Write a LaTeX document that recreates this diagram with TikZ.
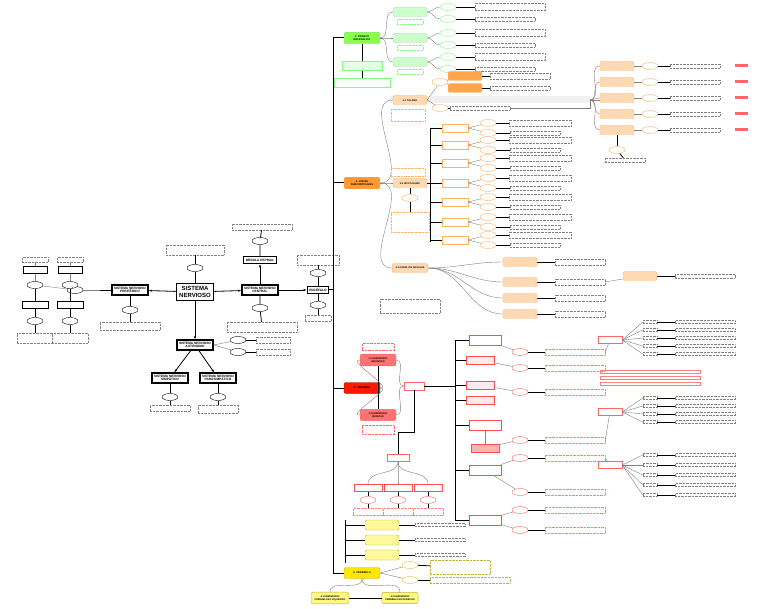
\documentclass[tikz,border=0pt]{standalone}
\usepackage{fontspec}
\setmainfont{Liberation Sans}
\usetikzlibrary{shapes.geometric,arrows.meta}
\begin{document}
\begin{tikzpicture}[x=1pt,y=-1pt,
 main/.style={draw,very thick,fill=white,align=center,font=\bfseries\fontsize{3.2}{3.6}\selectfont,inner sep=2pt},
 big/.style={draw,line width=1.2pt,fill=white,align=center,font=\bfseries\fontsize{6}{6.5}\selectfont,inner sep=3pt},
 ov/.style={draw,ellipse,thin,fill=white,minimum width=16pt,minimum height=7pt,inner sep=0pt},
 tb/.style={draw,densely dotted,gray,fill=white,minimum height=#1,inner sep=0pt},
 tb/.default=8pt,
 gB/.style={draw=green!50!black!40,fill=green!55!lime!70,rounded corners=2pt,minimum width=36pt,minimum height=11pt,align=center,font=\bfseries\fontsize{2.6}{3}\selectfont},
 gS/.style={draw=green!40!black!30,fill=green!20,rounded corners=2pt,minimum width=34pt,minimum height=9pt,font=\bfseries\fontsize{2.4}{3}\selectfont},
 oB/.style={draw=orange!70,fill=orange!80,rounded corners=2pt,minimum width=36pt,minimum height=11pt,align=center,font=\bfseries\fontsize{2.6}{3}\selectfont},
 oS/.style={draw=orange!60,fill=orange!30,rounded corners=2pt,minimum width=34pt,minimum height=9pt,font=\bfseries\fontsize{2.4}{3}\selectfont},
 oL/.style={draw=orange!60,fill=white,minimum width=26pt,minimum height=8pt},
 rB/.style={draw=red!60!black,fill=red!80!orange,rounded corners=2pt,minimum width=36pt,minimum height=11pt,align=center,font=\bfseries\fontsize{2.6}{3}\selectfont},
 rH/.style={draw=red!60,fill=red!55,rounded corners=2pt,minimum width=36pt,minimum height=11pt,align=center,font=\bfseries\fontsize{2.4}{3}\selectfont},
 rS/.style={draw=red!70,thick,fill=white,minimum width=32pt,minimum height=10pt,align=center,font=\bfseries\fontsize{2.4}{3}\selectfont},
 rL/.style={draw=red!70,fill=red!8,minimum width=28pt,minimum height=8pt},
 yB/.style={draw=yellow!70!black,fill=yellow!90!orange,rounded corners=2pt,minimum width=36pt,minimum height=11pt,align=center,font=\bfseries\fontsize{2.6}{3}\selectfont},
 yS/.style={draw=yellow!70!black,fill=yellow!40,rounded corners=2pt,minimum width=34pt,minimum height=10pt,align=center,font=\bfseries\fontsize{2.4}{3}\selectfont},
 ln/.style={thick},
 cv/.style={gray,thin},
 arr/.style={thick,-{Latex[length=3pt]}}]
\useasboundingbox (0,0) rectangle (768,609);
\fill[white] (0,0) rectangle (768,609);
\fill[gray!12] (390,96) rectangle (590,103);
% ---------- left cluster
\node[big] (sn) at (195,292) {SISTEMA\\NERVIOSO};
\node[main] (snp) at (130,290) {SISTEMA NERVIOSO\\PERIFÉRICO};
\node[main] (snc) at (260,290) {SISTEMA NERVIOSO\\CENTRAL};
\node[main] (me) at (260,260) {MÉDULA ESPINAL};
\node[main] (enc) at (318,290) {ENCÉFALO};
\node[main] (sna) at (195,345) {SISTEMA NERVIOSO\\AUTÓNOMO};
\node[main] (sim) at (170,378) {SISTEMA NERVIOSO\\SIMPÁTICO};
\node[main] (par) at (218,378) {SISTEMA NERVIOSO\\PARASIMPÁTICO};
\draw[arr] (sn) -- (snp); \draw[arr] (sn) -- (snc); \draw[arr] (sn) -- (sna);
\draw[arr] (snc) -- (me); \draw[arr] (snc) -- (enc);
\draw[arr] (sna) -- (sim); \draw[arr] (sna) -- (par);
\node[ov] (o1) at (195,268) {}; \node[tb=10pt,minimum width=58pt] (t1) at (195,250) {};
\draw[ln] (sn)--(o1)--(t1);
\node[ov] (o2) at (130,310) {}; \node[tb=8pt,minimum width=60pt] (t2) at (130,326) {};
\draw[ln] (snp)--(o2)--(t2);
\node[ov] (o3) at (260,308) {}; \node[tb=10pt,minimum width=70pt] (t3) at (262,327) {};
\draw[ln] (snc)--(o3)--(t3);
\node[ov] (o4) at (260,241) {}; \node[tb=6pt,minimum width=60pt] (t4) at (262,227) {};
\draw[ln] (me)--(o4)--(t4);
\node[ov] (o5) at (318,273) {}; \node[tb=10pt,minimum width=42pt] (t5) at (318,260) {};
\draw[ln] (enc)--(o5)--(t5);
\node[ov] (o6) at (318,305) {}; \node[tb=6pt,minimum width=26pt] (t6) at (318,318) {};
\draw[ln] (enc)--(o6)--(t6);
\node[ov] (o7) at (238,340) {}; \node[tb=6pt,minimum width=34pt] (t7) at (273,340) {};
\node[ov] (o8) at (238,352) {}; \node[tb=6pt,minimum width=34pt] (t8) at (273,352) {};
\draw[cv] (sna.east)--(o7); \draw[cv] (sna.east)--(o8);
\draw[ln] (o7)--(t7); \draw[ln] (o8)--(t8);
\node[ov] (o9) at (170,397) {}; \node[tb=6pt,minimum width=40pt] (t9) at (170,408) {};
\node[ov] (o10) at (218,397) {}; \node[tb=8pt,minimum width=40pt] (t10) at (218,409) {};
\draw[ln] (sim)--(o9)--(t9); \draw[ln] (par)--(o10)--(t10);
% far left
\coordinate (fl) at (100,290);
\draw[ln] (snp)--(fl);
\node[ov] (o11) at (75,290) {};
\draw[cv] (fl)--(o11);
\foreach \x/\n in {35/a,70/b}{
 \node[draw,thin,minimum width=24pt,minimum height=6pt] (u\n) at (\x,270) {};
 \node[ov] (v\n) at (\x,285) {};
 \node[draw,thin,minimum width=26pt,minimum height=7pt] (w\n) at (\x,305) {};
 \node[ov] (x\n) at (\x,321) {};
 \node[tb=10pt,minimum width=36pt] (y\n) at (\x,338) {};
 \draw[cv] (u\n)--(v\n); \draw[ln] (v\n)--(w\n); \draw[ln] (w\n)--(x\n)--(y\n);
 \node[tb=5pt,minimum width=26pt] (z\n) at (\x,260) {};
 \draw[cv] (z\n)--(u\n);}
\draw[cv] (o11)--(va); \draw[cv] (o11)--(vb);
% ---------- spine
\coordinate (s0) at (333,38); \coordinate (s1) at (333,573);
\draw[line width=1pt] (enc)--(333,290);
\draw[line width=1pt] (s0)--(s1);
\node[gB] (g) at (362,38) {1. TRONCO\\ENCEFÁLICO};
\node[oB] (o) at (362,183) {2. ZONAS\\SUBCORTICALES};
\node[rB] (r) at (362,388) {3. CEREBRO};
\node[yB] (y) at (362,573) {4. CEREBELO};
\foreach \n/\yy in {g/38,o/183,r/388,y/573}{\draw[line width=1pt] (333,\yy)--(\n);}
% green
\foreach \i/\yy in {1/12,2/38,3/62}{
 \node[gS] (gs\i) at (410,\yy) {};
 \draw[cv] (g.east) to[out=0,in=180] (gs\i.west);
 \node[ov,draw=green!50] (ga\i) at (448,\yy-5) {}; \node[ov,draw=green!50] (gb\i) at (448,\yy+7) {};
 \draw[cv] (gs\i.east) to[out=0,in=180] (ga\i); \draw[cv] (gs\i.east) to[out=0,in=180] (gb\i);
 \node[tb=7pt,minimum width=70pt] (gt\i) at (510,\yy-5) {}; \draw[ln] (ga\i)--(gt\i);
 \node[tb=4pt,minimum width=60pt] (gu\i) at (505,\yy+7) {}; \draw[ln] (gb\i)--(gu\i);
 \node[tb=5pt,minimum width=26pt,draw=green!50] at (410,\yy+10) {};}
\node[draw=green!50,fill=green!10,thick,minimum width=40pt,minimum height=9pt] (gbx) at (362,66) {};
\node[draw=green!50,minimum width=56pt,minimum height=9pt] (gtx) at (362,83) {};
\draw[ln] (g)--(gbx)--(gtx);
% orange
\node[oS] (os1) at (410,100) {2.1 TÁLAMO};
\node[oS] (os2) at (410,183) {2.2 HIPOTÁLAMO};
\draw[cv] (o.east) to[out=0,in=180] (os1.west);
\draw[cv] (o.east) to[out=0,in=180] (os2.west);
\node[oS] (os3) at (410,268) {2.3 GANGLIOS BASALES};
\draw[cv] (o.east) to[out=0,in=180] (os3.west);
\node[tb=12pt,minimum width=34pt,draw=orange!60] at (408,115) {};
\node[tb=8pt,minimum width=34pt,draw=orange!60] at (408,172) {};
\node[ov,draw=orange!60] (oo) at (410,198) {};
\node[tb=20pt,minimum width=38pt,draw=orange!60] (ott) at (410,222) {};
\draw[ln] (os2)--(oo)--(ott);
\node[ov,draw=orange!60] (ta) at (440,82) {}; \node[ov,draw=orange!60] (tb2) at (440,108) {};
\draw[cv] (os1.east)--(ta); \draw[cv] (os1.east)--(tb2);
\node[oS,fill=orange!70] (tc) at (465,76) {}; \node[oS,fill=orange!70] (td) at (465,88) {};
\draw[cv] (ta)--(tc); \draw[cv] (ta)--(td);
\node[tb=6pt,minimum width=60pt] (te) at (520,76) {}; \node[tb=4pt,minimum width=60pt] (tf) at (520,88) {};
\draw[ln] (tc)--(te); \draw[ln] (td)--(tf);
\node[tb=4pt,minimum width=60pt] (tg) at (480,108) {}; \draw[ln] (tb2)--(tg);
\draw[cv] (tg.east) -- (590,108) |- (600,100);
% thalamus nuclei
\foreach \i/\yy in {1/66,2/82,3/98,4/114,5/130}{
 \node[oS] (nk\i) at (617,\yy) {};
 \draw[cv] (590,100) to[out=0,in=180] (nk\i.west);
 \node[ov,draw=orange!60] (nko\i) at (650,\yy) {};
 \node[tb=4pt,minimum width=50pt] (nkt\i) at (695,\yy) {};
 \draw[cv] (nk\i)--(nko\i); \draw[ln] (nko\i)--(nkt\i);
 \fill[red!60] (735,\yy-1.5) rectangle (748,\yy+1.5);}
\node[ov,draw=orange!60] (nb) at (617,150) {}; \draw[ln] (nk5)--(nb);
\node[tb=4pt,minimum width=40pt] (nbt) at (625,160) {}; \draw[ln] (nb)--(nbt);
% hypothalamus rows
\draw[line width=0.8pt] (430,128)--(430,242);
\draw[line width=0.8pt] (os2)--(430,183);
\foreach \i/\yy in {1/128,2/145,3/163,4/183,5/202,6/222,7/240}{
 \node[oL] (hx\i) at (455,\yy) {};
 \draw[line width=0.8pt] (430,\yy)--(hx\i);
 \node[ov,draw=orange!60] (ha\i) at (488,\yy-5) {}; \node[ov,draw=orange!60] (hb\i) at (488,\yy+5) {};
 \draw[cv] (hx\i.east)--(ha\i); \draw[cv] (hx\i.east)--(hb\i);
 \node[tb=6pt,minimum width=62pt] (hta\i) at (540,\yy-5) {}; \draw[ln] (ha\i)--(hta\i);
 \node[tb=4pt,minimum width=50pt] (htb\i) at (535,\yy+5) {}; \draw[ln] (hb\i)--(htb\i);}
% ganglios basales
\foreach \i/\yy in {1/262,2/282,3/298,4/314}{
 \node[oS] (bg\i) at (520,\yy) {};
 \draw[cv] (os3.east) to[out=0,in=180] (bg\i.west);
 \node[tb=6pt,minimum width=50pt] (bgt\i) at (580,\yy) {}; \draw[ln] (bg\i)--(bgt\i);}
\node[oS] (bgr) at (640,276) {}; \draw[cv] (bgt2.east)--(bgr);
\node[tb=4pt,minimum width=60pt] (bgrt) at (705,276) {}; \draw[ln] (bgr)--(bgrt);
\node[tb=14pt,minimum width=60pt] at (410,306) {};
% red
\node[rH] (r1) at (378,360) {3.1 HEMISFERIO\\IZQUIERDO};
\node[rH] (r2) at (378,415) {3.2 HEMISFERIO\\DERECHO};
\draw[line width=0.8pt] (r1)--(r2);
\node[tb=7pt,minimum width=32pt,draw=red!60] at (378,347) {};
\node[tb=9pt,minimum width=32pt,draw=red!60] at (378,430) {};
\draw[cv] (r.east) to[out=0,in=180] (r1.west);
\draw[cv] (r.east) to[out=0,in=180] (r2.west);
\node[draw=red!60,minimum width=20pt,minimum height=8pt] (rc) at (414,386) {};
\draw[cv] (r1.east) to[out=0,in=180] (rc.west);
\draw[cv] (r2.east) to[out=0,in=180] (rc.west);
\draw[line width=0.8pt] (rc.south) |- (398,432) -- (398,455);
\node[draw=red!60,minimum width=22pt,minimum height=6pt] (rl) at (398,458) {};
\foreach \i/\x in {1/368,2/398,3/428}{
 \node[rS,minimum height=7pt,minimum width=28pt] (rk\i) at (\x,488) {};
 \draw[cv] (rl.south) to[out=-90,in=90] (rk\i.north);
 \node[ov,draw=red!60] (rko\i) at (\x,500) {};
 \node[tb=7pt,minimum width=30pt,draw=red!50] (rkt\i) at (\x,512) {};
 \draw[ln] (rk\i)--(rko\i)--(rkt\i);}
% lobes
\draw[line width=0.8pt] (rc.east)--(455,386);
\draw[line width=0.8pt] (455,340)--(455,520);
\foreach \i/\yy in {1/340,2/425,3/470,4/520}{
 \node[rS] (lb\i) at (485,\yy) {};
 \draw[line width=0.8pt] (455,\yy)--(lb\i);}
\foreach \i/\yy in {1/360,2/385,3/400}{
 \node[rL] (lx\i) at (480,\yy) {}; \draw[thin] (455,\yy)--(lx\i);}
\node[rL,fill=red!30] (lx4) at (485,448) {}; \draw[cv] (lb2)--(lx4);
\foreach \n/\yy in {a/352,b/368,c/392,d/440,e/458,f/492,g/510,h/530}{
 \node[ov,draw=red!60] (lo\n) at (520,\yy) {};
 \node[tb=6pt,minimum width=60pt,draw=red!50] (lt\n) at (575,\yy) {};
 \draw[ln] (lo\n)--(lt\n);}
\draw[cv] (lb1)--(loa); \draw[cv] (lx1)--(lob); \draw[cv] (lx2)--(loc);
\draw[cv] (lx4)--(lod); \draw[cv] (lb3)--(loe); \draw[cv] (lb3)--(lof);
\draw[cv] (lb4)--(log); \draw[cv] (lb4)--(loh);
\foreach \n/\x/\yy in {p/610/340,q/610/412,r2/610/465}{
 \node[draw=red!60,minimum width=24pt,minimum height=6pt] (fn\n) at (\x,\yy) {};}
\draw[cv] (lta.east)--(fnp); \draw[cv] (ltd.east)--(fnq); \draw[cv] (lte.east)--(fnr2);
\foreach \k/\yy in {0/322,1/330,2/338,3/346,4/354}{
 \node[tb=3pt,minimum width=14pt] (fa\k) at (650,\yy) {};
 \node[tb=3pt,minimum width=60pt] (fb\k) at (705,\yy) {};
 \draw[cv] (fnp.east)--(fa\k.west); \draw[thin] (fa\k)--(fb\k);}
\foreach \k/\yy in {0/398,1/406,2/414,3/422}{
 \node[tb=3pt,minimum width=14pt] (fc\k) at (650,\yy) {};
 \node[tb=3pt,minimum width=60pt] (fd\k) at (705,\yy) {};
 \draw[cv] (fnq.east)--(fc\k.west); \draw[thin] (fc\k)--(fd\k);}
\foreach \k/\yy in {0/455,1/465,2/475,3/485,4/495}{
 \node[tb=3pt,minimum width=14pt] (fe\k) at (650,\yy) {};
 \node[tb=3pt,minimum width=60pt] (ff\k) at (705,\yy) {};
 \draw[cv] (fnr2.east)--(fe\k.west); \draw[thin] (fe\k)--(ff\k);}
\foreach \yy in {372,378,384}{\draw[red!50] (600,\yy-1.5) rectangle (700,\yy+1.5);}
% yellow
\draw[line width=0.8pt] (345,520)--(345,563);
\foreach \i/\yy in {1/525,2/540,3/555}{
 \node[yS] (yk\i) at (382,\yy) {};
 \draw[line width=0.8pt] (345,\yy)--(yk\i);
 \node[tb=3pt,minimum width=50pt] (ykt\i) at (440,\yy) {}; \draw[ln] (yk\i)--(ykt\i);}
\node[ov,draw=yellow!80!black] (ya) at (410,565) {}; \node[ov,draw=yellow!80!black] (yb) at (410,580) {};
\draw[cv] (y.east)--(ya); \draw[cv] (y.east)--(yb);
\node[tb=14pt,minimum width=60pt,draw=yellow!70!black] (yat) at (460,567) {}; \draw[ln] (ya)--(yat);
\node[tb=6pt,minimum width=80pt,draw=yellow!70!black] (ybt) at (470,580) {}; \draw[ln] (yb)--(ybt);
\node[yS,fill=yellow!50] (y1) at (330,598) {4.1 HEMISFERIO\\CEREBELOSO IZQUIERDO};
\node[yS,fill=yellow!50] (y2) at (400,598) {4.2 HEMISFERIO\\CEREBELOSO DERECHO};
\draw[cv] (y.south) to[out=-90,in=90] (y1.north);
\draw[cv] (y.south) to[out=-90,in=90] (y2.north);
\draw[line width=0.8pt] (y1)--(y2);
\end{tikzpicture}
\end{document}
